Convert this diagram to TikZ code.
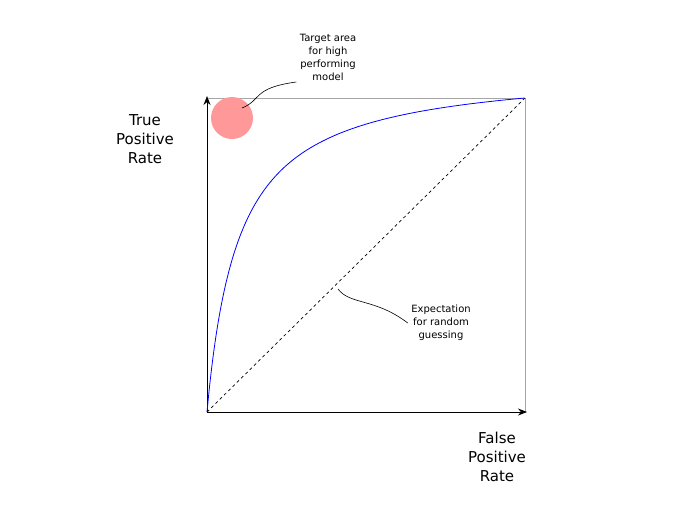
\documentclass[tikz,border=0pt]{standalone}
\usepackage{fontspec}
\setmainfont{DejaVu Sans}
\usetikzlibrary{arrows.meta}
\begin{document}
\begin{tikzpicture}[x=1pt,y=-1pt,
  axis/.style={-{Stealth[length=9pt,width=7pt]},line width=1pt},
  big/.style={align=center,font=\fontsize{15}{19}\selectfont},
  small/.style={align=center,font=\fontsize{10}{13}\selectfont},
  note/.style={line width=0.6pt}]
\useasboundingbox (0,0) rectangle (684,509);
\coordinate (O) at (207,412);
\coordinate (TR) at (525,98);
\draw[gray!70,line width=0.8pt] (207,98) -- (TR) -- (525,412);
\fill[red!40] (232,118) circle (21);
\draw[axis] (O) -- (207,96);
\draw[axis] (O) -- (527,412);
\draw[dashed,line width=0.7pt] (O) -- (TR);
\draw[blue,line width=0.8pt] plot[domain=0:1,samples=150,smooth] ({207+318*\x},{412-314*\x*1.1/(\x+0.1)});
\node[big] (tpr) at (145,139) {True\\Positive\\Rate};
\node[big] (fpr) at (497,457) {False\\Positive\\Rate};
\node[small] (ta) at (328,57) {Target area\\for high\\performing\\model};
\node[small] (ex) at (441,323) {Expectation\\for random\\guessing};
\coordinate (c1) at (242,108);
\coordinate (d1) at (338,289);
\draw[note] (c1) .. controls (262,100) and (252,88) .. (ta.west |- 0,82) ++(0,0) coordinate (t1);
\draw[note] (d1) .. controls (350,305) and (375,298) .. (ex.west);
\end{tikzpicture}
\end{document}
